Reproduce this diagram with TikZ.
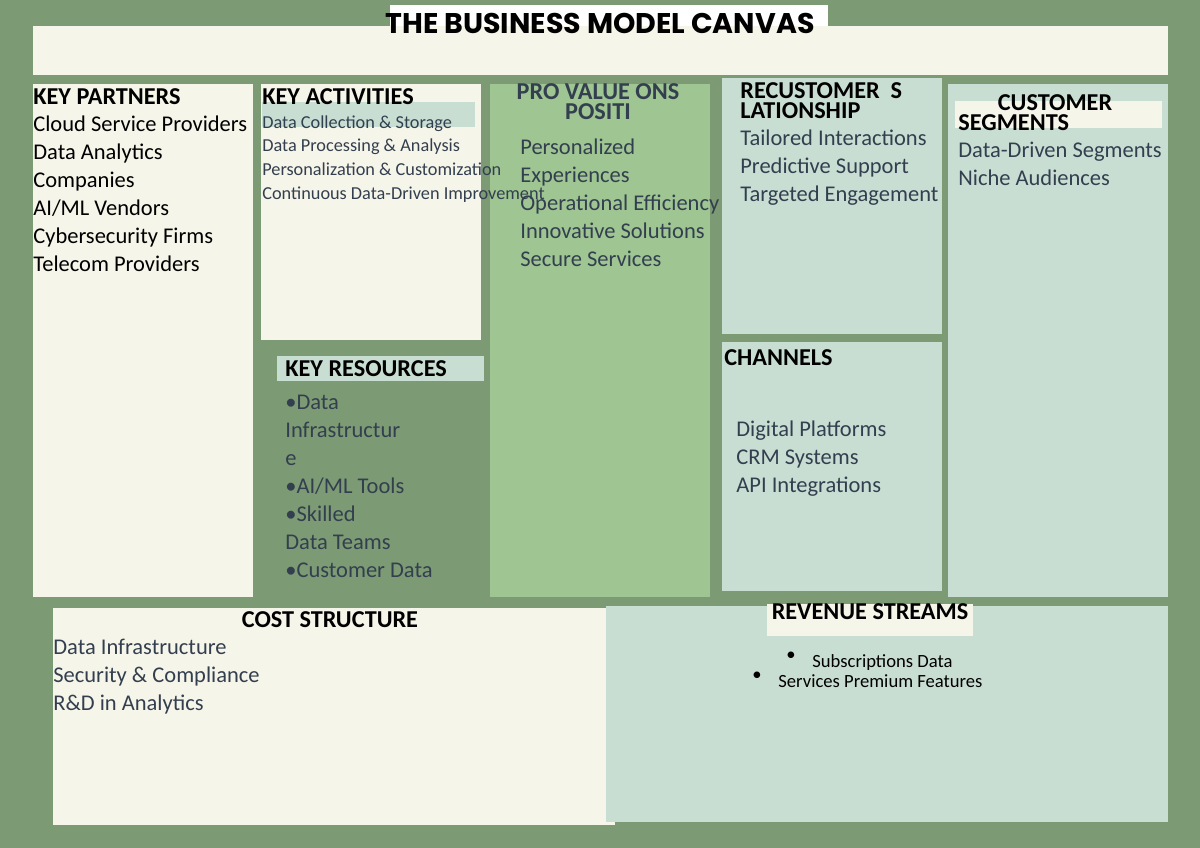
\documentclass[tikz,border=0pt]{standalone}
\usepackage{fontspec}
\setmainfont{Carlito}
\newfontfamily\titlefont{Poppins}
\definecolor{bgGreen}{HTML}{7C9A74}
\definecolor{cream}{HTML}{F6F5E9}
\definecolor{teal}{HTML}{C9DED3}
\definecolor{valGreen}{HTML}{9EC592}
\definecolor{ink}{HTML}{333F4F}
\begin{document}
\begin{tikzpicture}
    [ x=0.02cm, y=-0.02cm,
      head/.style={anchor=north west, inner sep=0pt, font=\bfseries\fontsize{13.8}{11.5}\selectfont, black, align=left},
      items/.style={anchor=north west, inner sep=0pt, font=\fontsize{12.8}{15.9}\selectfont, ink, align=left},
      smallItems/.style={anchor=north west, inner sep=0pt, font=\fontsize{10.4}{13.6}\selectfont, ink, align=left},
      revenue/.style={anchor=north west, inner sep=0pt, font=\fontsize{10.6}{11}\selectfont}]

%%%%%%%%%%%%%%%%%%%%%%%%%%%%%%%%%%%%%%%%%%%%%%%%%%%%%%%%%%%%%%%%%%%%%%%%
%panels
  \fill[bgGreen] (0,0) rectangle (1200,848);
  \fill[white] (390,5) rectangle (828,41);
  \fill[cream] (33,26) rectangle (1168,75);
  \fill[cream] (33,84) rectangle (253,597);
  \fill[cream] (261,84) rectangle (481,340);
  \fill[teal] (262,102) rectangle (475,127);
  \fill[teal] (277,356) rectangle (484,381);
  \fill[valGreen] (490,84) rectangle (710,597);
  \fill[teal] (722,78) rectangle (942,334);
  \fill[teal] (722,342) rectangle (942,591);
  \fill[teal] (948,84) rectangle (1168,597);
  \fill[cream] (955,101) rectangle (1162,128);
  \fill[cream] (53,608) rectangle (615,825);
  \fill[teal] (606,606) rectangle (1168,822);
  \fill[cream] (767,604) rectangle (973,636);

%%%%%%%%%%%%%%%%%%%%%%%%%%%%%%%%%%%%%%%%%%%%%%%%%%%%%%%%%%%%%%%%%%%%%%%%
%texts
  \node[anchor=center, font=\titlefont\bfseries\fontsize{15}{14}\selectfont, scale=1.08] (title) at (600,23) {THE BUSINESS MODEL CANVAS};

  \node[head] (partnersHead) at (33,88) {KEY PARTNERS};
  \node[items, black] (partners) at (33,116) {Cloud Service Providers\\Data Analytics\\Companies\\AI/ML Vendors\\Cybersecurity Firms\\Telecom Providers};

  \node[head] (activitiesHead) at (262,88) {KEY ACTIVITIES};
  \node[smallItems] (activities) at (262,115) {Data Collection \& Storage\\Data Processing \& Analysis\\Personalization \& Customization\\Continuous Data-Driven Improvement};

  \node[head] (resourcesHead) at (285,360) {KEY RESOURCES};
  \node[items] (resources) at (285,395) {\textbullet Data\\Infrastructur\\e\\\textbullet AI/ML Tools\\\textbullet Skilled\\Data Teams\\\textbullet Customer Data};

  \node[head, anchor=north, align=center, ink] (valueHead) at (598,83) {PRO VALUE ONS\\POSITI};
  \node[items] (value) at (520,139) {Personalized\\Experiences\\Operational Efficiency\\Innovative Solutions\\Secure Services};

  \node[head] (relationHead) at (740,82) {RECUSTOMER\ \ S\\LATIONSHIP};
  \node[items] (relation) at (740,130) {Tailored Interactions\\Predictive Support\\Targeted Engagement};

  \node[head] (channelsHead) at (724,349) {CHANNELS};
  \node[items] (channels) at (736,421) {Digital Platforms\\CRM Systems\\API Integrations};

  \node[head, anchor=north] (segmentsHead) at (1055,94) {CUSTOMER};
  \node[head] (segmentsHead2) at (958,114) {SEGMENTS};
  \node[items] (segments) at (958,142) {Data-Driven Segments\\Niche Audiences};

  \node[head, anchor=north] (costHead) at (330,611) {COST STRUCTURE};
  \node[items] (cost) at (53,639) {Data Infrastructure\\Security \& Compliance\\R\&D in Analytics};

  \node[head, anchor=north] (revenueHead) at (870,603) {REVENUE STREAMS};
  \node[revenue] (bulletA) at (786,652) {\textbullet};
  \node[revenue] (revenueA) at (812,654) {Subscriptions Data};
  \node[revenue] (bulletB) at (752,672) {\textbullet};
  \node[revenue] (revenueB) at (778,674) {Services Premium Features};
\end{tikzpicture}
\end{document}
